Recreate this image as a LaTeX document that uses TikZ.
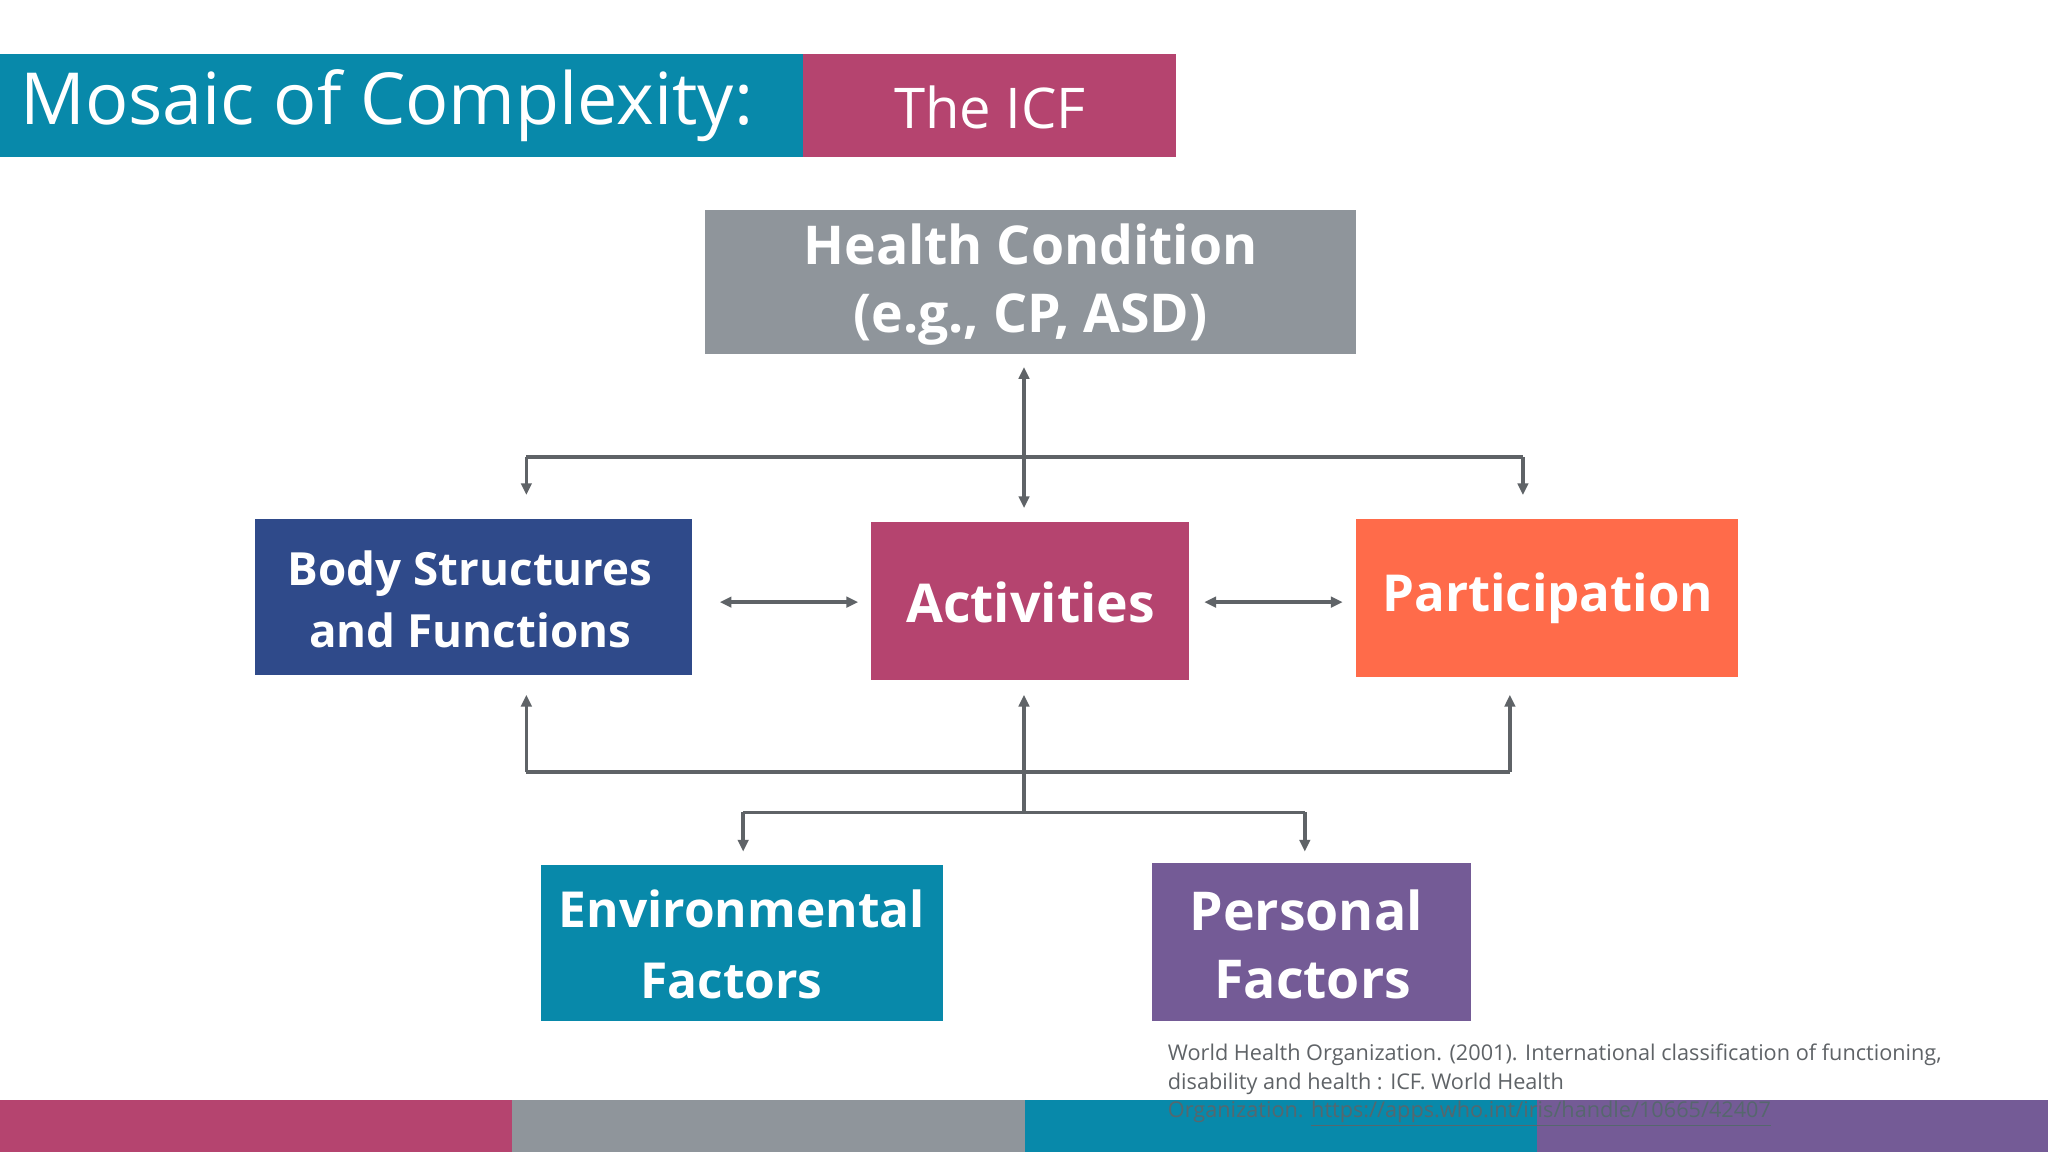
\documentclass[tikz,border=0pt]{standalone}
\usepackage{fontspec}
\setmainfont{Open Sans}
\usetikzlibrary{arrows.meta}
\definecolor{teal1}{HTML}{0889AA}
\definecolor{mag}{HTML}{B5446F}
\definecolor{grayb}{HTML}{8F959B}
\definecolor{navy}{HTML}{2F4A8A}
\definecolor{coral}{HTML}{FF6B4A}
\definecolor{purp}{HTML}{745B96}
\definecolor{ln}{HTML}{5F6367}
\begin{document}
\begin{tikzpicture}[x=1pt,y=-1pt,
  box/.style={inner sep=0, text=white, font=\fontsize{41}{52}\selectfont\bfseries, align=center},
  con/.style={draw=ln, line width=2.6pt},
  arr/.style={con, -{Triangle[length=9pt,width=8pt]}},
  darr/.style={con, {Triangle[length=9pt,width=8pt]}-{Triangle[length=9pt,width=8pt]}}]
\useasboundingbox (0,0) rectangle (1568,882);
\fill[white] (0,0) rectangle (1568,882);
% title
\fill[teal1] (0,41) rectangle (615,120);
\fill[mag] (615,41) rectangle (900,120);
\node[anchor=west, text=white, font=\fontsize{55}{55}\selectfont] (t1) at (12,81) {Mosaic of Complexity:};
\node[text=white, font=\fontsize{43}{43}\selectfont] (t2) at (758,82) {The ICF};
% boxes
\fill[grayb] (540,161) rectangle (1038,271);
\node[box] (hc) at (789,218) {Health Condition\\(e.g., CP, ASD)};
\fill[navy] (195,397) rectangle (530,517);
\node[box, font=\fontsize{35}{47}\selectfont\bfseries] (bs) at (360,459) {Body Structures\\and Functions};
\fill[mag] (667,400) rectangle (910,521);
\node[box] (ac) at (789,461) {Activities};
\fill[coral] (1038,397) rectangle (1331,518);
\node[box, font=\fontsize{39}{47}\selectfont\bfseries] (pa) at (1185,458) {Participation};
\fill[teal1] (414,662) rectangle (722,782);
\node[box, font=\fontsize{38}{54}\selectfont\bfseries] (ef) at (568,723) {Environmental\\\hspace*{-16pt}Factors};
\fill[purp] (882,661) rectangle (1126,782);
\node[box] (pf) at (1000,723) {Personal\\\hspace*{10pt}Factors};
% connectors
\coordinate (c1) at (784,281); \coordinate (c2) at (784,389);
\coordinate (h1) at (403,350); \coordinate (h2) at (1166,350);
\coordinate (h1b) at (403,379); \coordinate (h2b) at (1166,379);
\draw[darr] (c1) -- (c2);
\draw[con] (h1) -- (h2);
\draw[arr] (h1) -- (h1b);
\draw[arr] (h2) -- (h2b);
\coordinate (l1) at (551,461); \coordinate (l2) at (657,461);
\coordinate (r1) at (922,461); \coordinate (r2) at (1028,461);
\draw[darr] (l1) -- (l2);
\draw[darr] (r1) -- (r2);
\coordinate (b1) at (403,591); \coordinate (b2) at (784,591); \coordinate (b3) at (1156,591);
\coordinate (b1t) at (403,532); \coordinate (b2t) at (784,532); \coordinate (b3t) at (1156,532);
\draw[con] (b1) -- (b3);
\draw[arr] (b1) -- (b1t);
\draw[arr] (b2) -- (b2t);
\draw[arr] (b3) -- (b3t);
\coordinate (m1) at (784,622); \coordinate (e1) at (569,622); \coordinate (e2) at (999,622);
\coordinate (e1b) at (569,652); \coordinate (e2b) at (999,652);
\draw[con] (b2) -- (m1);
\draw[con] (e1) -- (e2);
\draw[arr] (e1) -- (e1b);
\draw[arr] (e2) -- (e2b);
% bottom bars
\fill[mag] (0,842) rectangle (392,882);
\fill[grayb] (392,842) rectangle (785,882);
\fill[teal1] (785,842) rectangle (1177,882);
\fill[purp] (1177,842) rectangle (1568,882);
% citation
\node[anchor=north west, align=left, text=ln, inner sep=0, font=\fontsize{16.6}{22}\selectfont] (cit) at (894,799)
 {World Health Organization. (2001). International classification of functioning,\\
  disability and health : ICF. World Health\\
  {\color{ln!90!teal1}Organization. \underline{https://apps.who.int/iris/handle/10665/42407}}};
\end{tikzpicture}
\end{document}
